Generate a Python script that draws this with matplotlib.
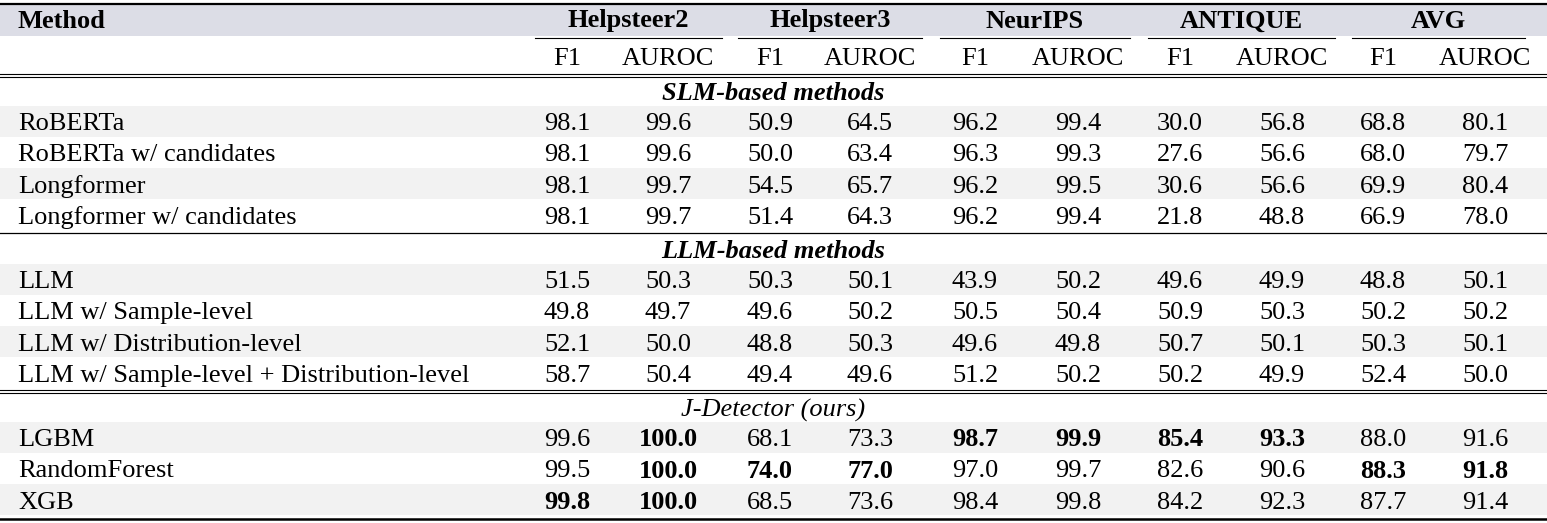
import matplotlib.pyplot as plt

W, H = 1547, 523

groups = ['Helpsteer2', 'Helpsteer3', 'NeurIPS', 'ANTIQUE', 'AVG']
metrics = ['F1', 'AUROC']

slm_methods = ['RoBERTa', 'RoBERTa w/ candidates', 'Longformer', 'Longformer w/ candidates']
slm_values = [
    [98.1, 99.6, 50.9, 64.5, 96.2, 99.4, 30.0, 56.8, 68.8, 80.1],
    [98.1, 99.6, 50.0, 63.4, 96.3, 99.3, 27.6, 56.6, 68.0, 79.7],
    [98.1, 99.7, 54.5, 65.7, 96.2, 99.5, 30.6, 56.6, 69.9, 80.4],
    [98.1, 99.7, 51.4, 64.3, 96.2, 99.4, 21.8, 48.8, 66.9, 78.0],
]
llm_methods = ['LLM', 'LLM w/ Sample-level', 'LLM w/ Distribution-level',
               'LLM w/ Sample-level + Distribution-level']
llm_values = [
    [51.5, 50.3, 50.3, 50.1, 43.9, 50.2, 49.6, 49.9, 48.8, 50.1],
    [49.8, 49.7, 49.6, 50.2, 50.5, 50.4, 50.9, 50.3, 50.2, 50.2],
    [52.1, 50.0, 48.8, 50.3, 49.6, 49.8, 50.7, 50.1, 50.3, 50.1],
    [58.7, 50.4, 49.4, 49.6, 51.2, 50.2, 50.2, 49.9, 52.4, 50.0],
]
jd_methods = ['LGBM', 'RandomForest', 'XGB']
jd_values = [
    [99.6, 100.0, 68.1, 73.3, 98.7, 99.9, 85.4, 93.3, 88.0, 91.6],
    [99.5, 100.0, 74.0, 77.0, 97.0, 99.7, 82.6, 90.6, 88.3, 91.8],
    [99.8, 100.0, 68.5, 73.6, 98.4, 99.8, 84.2, 92.3, 87.7, 91.4],
]
jd_bold = [
    [0, 1, 0, 0, 1, 1, 1, 1, 0, 0],
    [0, 1, 1, 1, 0, 0, 0, 0, 1, 1],
    [1, 1, 0, 0, 0, 0, 0, 0, 0, 0],
]

plt.rcParams['font.family'] = ['Liberation Serif', 'DejaVu Serif']
fig = plt.figure(figsize=(W / 100, H / 100), dpi=100)
ax = fig.add_axes([0, 0, 1, 1])
ax.set_xlim(0, W)
ax.set_ylim(H, 0)
ax.axis('off')

FS = 19
DY = 3  # nudge text down to sit centred in rows
col_x = [567, 668, 770, 870, 975, 1078, 1180, 1282, 1383, 1485]
grp_span = [(535, 722), (738, 922), (940, 1130), (1148, 1335), (1352, 1525)]
stripe = '#f2f2f2'


def txt(x, y, s, **kw):
    ax.text(x, y + DY, s, fontsize=FS, va='center', **kw)


# header
ax.add_patch(plt.Rectangle((0, 5), W, 31, color='#dcdde6', lw=0))
ax.plot([0, W], [4, 4], color='black', lw=1.6)
txt(18, 18, 'Method', fontweight='bold')
for g, (a, b) in zip(groups, grp_span):
    txt((a + b) / 2, 18, g, fontweight='bold', ha='center')
    ax.plot([a, b], [38, 38], color='black', lw=0.8)
for i, x in enumerate(col_x):
    txt(x, 56, metrics[i % 2], ha='center')
ax.plot([0, W], [74, 74], color='black', lw=0.8)
ax.plot([0, W], [77, 77], color='black', lw=0.8)


def section(title, y0, names, vals, bold=None, italic_bold=True):
    txt(W / 2, y0, title, ha='center', style='italic',
        fontweight='bold' if italic_bold else 'normal')
    for r, (name, row) in enumerate(zip(names, vals)):
        y = y0 + 30 + r * 31.3
        if r % 2 == 0:
            ax.add_patch(plt.Rectangle((0, y - 15.5), W, 31, color=stripe, lw=0))
        txt(18, y, name)
        for c, v in enumerate(row):
            fw = 'bold' if bold is not None and bold[r][c] else 'normal'
            txt(col_x[c], y, f'{v:.1f}', ha='center', fontweight=fw)


section('SLM-based methods', 91, slm_methods, slm_values)
ax.plot([0, W], [233, 233], color='black', lw=0.9)
section('LLM-based methods', 249, llm_methods, llm_values)
ax.plot([0, W], [390, 390], color='black', lw=0.8)
ax.plot([0, W], [393, 393], color='black', lw=0.8)
section('J-Detector (ours)', 407, jd_methods, jd_values, bold=jd_bold, italic_bold=False)
ax.plot([0, W], [519, 519], color='black', lw=1.8)

fig.savefig('out.png', dpi=100)
